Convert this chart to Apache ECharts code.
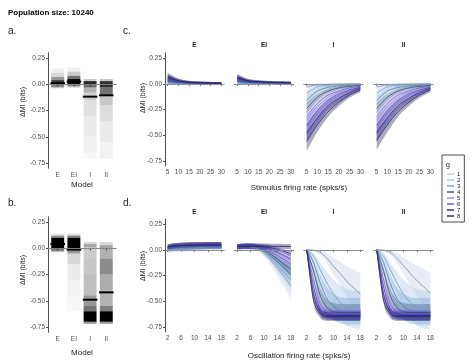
<!DOCTYPE html>
<html><head><meta charset="utf-8">
<script src="https://cdn.jsdelivr.net/npm/echarts@6/dist/echarts.min.js"></script>
<style>html,body{margin:0;padding:0;background:#fff}#c{width:474px;height:361px}</style>
</head><body><div id="c"></div>
<script>
// ---------------- data ----------------
const models = ['E', 'EI', 'I', 'II'];
const gLevels = ['1', '2', '3', '4', '5', '6', '7', '8'];
const yTicks = [-0.75, -0.5, -0.25, 0, 0.25];
const cTicks = [5, 10, 15, 20, 25, 30];
const dTicks = [2, 6, 10, 14, 18];
const cRates = [5, 10, 15, 20, 25, 30];
const dRates = [2, 4, 6, 8, 10, 12, 14, 16, 18];

// strip densities: [top, bottom, darkness]
const stripA_E  = [[0.15,0.11,0.06],[0.11,0.07,0.15],[0.07,0.04,0.4],[0.04,0.02,0.75],[0.02,-0.01,0.95],[-0.01,-0.03,0.45],[-0.03,-0.04,0.1]];
const stripA_EI = [[0.16,0.12,0.06],[0.12,0.08,0.2],[0.08,0.05,0.55],[0.05,0.0,0.95],[0.0,-0.02,0.5],[-0.02,-0.035,0.12]];
const stripA_I  = [[0.05,0.03,0.2],[0.03,-0.01,0.85],[-0.01,-0.03,0.6],[-0.03,-0.08,0.3],[-0.08,-0.15,0.18],[-0.15,-0.3,0.12],[-0.3,-0.5,0.08],[-0.5,-0.65,0.06],[-0.65,-0.71,0.03]];
const stripA_II = [[0.05,0.03,0.2],[0.03,-0.03,0.8],[-0.03,-0.1,0.55],[-0.1,-0.2,0.22],[-0.2,-0.35,0.13],[-0.35,-0.55,0.08],[-0.55,-0.71,0.05]];
const stripB_E  = [[0.14,0.12,0.1],[0.12,0.10,0.45],[0.10,-0.01,1.0],[-0.01,-0.03,0.5],[-0.03,-0.04,0.1]];
const stripB_EI = [[0.14,0.12,0.12],[0.12,0.10,0.5],[0.10,-0.02,1.0],[-0.02,-0.05,0.4],[-0.05,-0.15,0.15],[-0.15,-0.3,0.08],[-0.3,-0.45,0.05],[-0.45,-0.6,0.03]];
const stripB_I  = [[0.06,0.04,0.15],[0.04,0.01,0.35],[0.01,-0.1,0.2],[-0.1,-0.25,0.22],[-0.25,-0.45,0.25],[-0.45,-0.55,0.4],[-0.55,-0.6,0.55],[-0.6,-0.7,1.0],[-0.7,-0.72,0.4]];
const stripB_II = [[0.06,0.03,0.15],[0.03,0.0,0.35],[0.0,-0.1,0.3],[-0.1,-0.25,0.45],[-0.25,-0.4,0.32],[-0.4,-0.55,0.3],[-0.55,-0.6,0.5],[-0.6,-0.7,1.0],[-0.7,-0.72,0.4]];
const meanA = [0.01, 0.025, -0.118, -0.105];
const meanB = [0.04, -0.012, -0.49, -0.42];

// panel c (stimulus firing rate), rows = g1..g8
const c_E = [
  [0.0,0.0,0.0,0.0,0.0,0.0],
  [0.01,0.005,0.003,0.002,0.002,0.001],
  [0.02,0.01,0.006,0.004,0.003,0.002],
  [0.03,0.015,0.008,0.006,0.004,0.003],
  [0.04,0.02,0.01,0.007,0.005,0.004],
  [0.05,0.023,0.012,0.008,0.006,0.004],
  [0.06,0.027,0.013,0.009,0.006,0.005],
  [0.07,0.03,0.015,0.01,0.007,0.005]];
const c_EI = [
  [0.0,0.0,0.0,0.0,0.0,0.0],
  [0.01,0.006,0.004,0.003,0.003,0.002],
  [0.02,0.011,0.008,0.006,0.005,0.004],
  [0.03,0.016,0.011,0.008,0.007,0.006],
  [0.04,0.02,0.014,0.011,0.009,0.008],
  [0.048,0.024,0.016,0.013,0.011,0.009],
  [0.057,0.027,0.018,0.014,0.012,0.01],
  [0.065,0.03,0.02,0.015,0.012,0.01]];
const c_I = [
  [-0.03,-0.01,-0.005,-0.003,-0.002,-0.001],
  [-0.09,-0.03,-0.015,-0.008,-0.005,-0.003],
  [-0.16,-0.07,-0.035,-0.02,-0.012,-0.008],
  [-0.24,-0.13,-0.07,-0.04,-0.025,-0.015],
  [-0.32,-0.19,-0.11,-0.07,-0.04,-0.025],
  [-0.40,-0.26,-0.16,-0.10,-0.06,-0.035],
  [-0.48,-0.33,-0.21,-0.14,-0.085,-0.045],
  [-0.56,-0.40,-0.27,-0.18,-0.11,-0.06]];
const c_II = [
  [-0.03,-0.01,-0.005,-0.003,-0.002,-0.001],
  [-0.09,-0.03,-0.015,-0.008,-0.005,-0.003],
  [-0.16,-0.07,-0.035,-0.02,-0.012,-0.008],
  [-0.24,-0.13,-0.07,-0.04,-0.025,-0.015],
  [-0.32,-0.19,-0.11,-0.07,-0.04,-0.025],
  [-0.40,-0.26,-0.16,-0.10,-0.06,-0.035],
  [-0.48,-0.33,-0.21,-0.14,-0.085,-0.045],
  [-0.55,-0.40,-0.27,-0.18,-0.11,-0.06]];

// panel d (oscillation firing rate)
const d_E = [
  [-0.01,-0.005,0.0,0.004,0.007,0.01,0.012,0.013,0.014],
  [0.0,0.008,0.013,0.017,0.02,0.022,0.024,0.025,0.026],
  [0.01,0.018,0.023,0.027,0.03,0.032,0.033,0.034,0.035],
  [0.015,0.025,0.03,0.034,0.036,0.038,0.039,0.04,0.04],
  [0.02,0.03,0.035,0.038,0.04,0.041,0.042,0.043,0.043],
  [0.024,0.034,0.038,0.041,0.042,0.043,0.044,0.045,0.045],
  [0.027,0.037,0.041,0.043,0.044,0.045,0.046,0.046,0.046],
  [0.03,0.039,0.043,0.045,0.046,0.047,0.047,0.047,0.047]];
const d_EI = [
  [0.03,0.033,0.03,0.01,-0.035,-0.1,-0.18,-0.26,-0.35],
  [0.03,0.033,0.032,0.015,-0.02,-0.08,-0.15,-0.22,-0.29],
  [0.03,0.034,0.033,0.02,-0.01,-0.06,-0.12,-0.18,-0.24],
  [0.03,0.034,0.034,0.024,0.0,-0.04,-0.09,-0.14,-0.19],
  [0.03,0.035,0.035,0.028,0.01,-0.02,-0.055,-0.095,-0.14],
  [0.03,0.035,0.035,0.032,0.02,0.0,-0.025,-0.055,-0.09],
  [0.03,0.035,0.036,0.035,0.03,0.02,0.005,-0.015,-0.04],
  [0.03,0.035,0.036,0.036,0.036,0.035,0.034,0.033,0.032]];
const d_I = [
  [0,-0.005,-0.025,-0.08,-0.16,-0.23,-0.31,-0.37,-0.43],
  [0,-0.06,-0.19,-0.32,-0.43,-0.51,-0.56,-0.58,-0.59],
  [0,-0.12,-0.32,-0.47,-0.55,-0.59,-0.60,-0.60,-0.60],
  [0,-0.2,-0.44,-0.56,-0.60,-0.61,-0.61,-0.61,-0.61],
  [0,-0.28,-0.52,-0.60,-0.62,-0.62,-0.62,-0.62,-0.62],
  [0,-0.35,-0.57,-0.62,-0.63,-0.63,-0.63,-0.63,-0.63],
  [0,-0.42,-0.60,-0.64,-0.64,-0.64,-0.64,-0.64,-0.64],
  [0,-0.48,-0.62,-0.65,-0.65,-0.65,-0.65,-0.65,-0.65]];
const d_II = [
  [0,-0.005,-0.025,-0.08,-0.155,-0.23,-0.30,-0.36,-0.42],
  [0,-0.06,-0.19,-0.32,-0.43,-0.51,-0.56,-0.58,-0.59],
  [0,-0.12,-0.32,-0.47,-0.55,-0.59,-0.60,-0.60,-0.60],
  [0,-0.2,-0.44,-0.56,-0.60,-0.61,-0.61,-0.61,-0.61],
  [0,-0.28,-0.52,-0.60,-0.62,-0.62,-0.62,-0.62,-0.62],
  [0,-0.35,-0.57,-0.62,-0.63,-0.63,-0.63,-0.63,-0.63],
  [0,-0.42,-0.60,-0.64,-0.64,-0.64,-0.64,-0.64,-0.64],
  [0,-0.48,-0.62,-0.65,-0.65,-0.65,-0.65,-0.65,-0.65]];

// ribbon half-width: abs + rel*|value|, rel per g
const spread_cE  = {abs: 0.01, rel: [0.4,0.4,0.4,0.4,0.4,0.4,0.4,0.4]};
const spread_cEI = {abs: 0.008, rel: [0.35,0.35,0.35,0.35,0.35,0.35,0.35,0.35]};
const spread_cI  = {abs: 0.01, rel: [0.3,0.25,0.2,0.18,0.16,0.15,0.15,0.15]};
const spread_dE  = {abs: 0.02, rel: [0.2,0.2,0.2,0.2,0.2,0.2,0.2,0.2]};
const spread_dEI = {abs: 0.018, rel: [0.33,0.3,0.28,0.25,0.22,0.2,0.2,0.2]};
const spread_dI  = {abs: 0.01, rel: [0.45,0.3,0.2,0.12,0.08,0.06,0.05,0.05]};

// ---------------- styles ----------------
const FONT = 'Liberation Sans';
const fillColors = ['#c9cfe3','#a9c9e8','#77a7d4','#3f5f86','#9d90e3','#6f5fd0','#3b2aa0','#2c2c70'];
const lineColors = ['#7d8ca6','#6f9cc4','#4d7fae','#34506f','#6d60c0','#4d3fb0','#2f2390','#232458'];
const facetLeft = [165, 234.5, 304, 374];
const facetW = 59;

const grids = [
  {left: 48, top: 52.75, width: 68, height: 115.5},
  {left: 48, top: 216.75, width: 68, height: 115.5}
];
facetLeft.forEach(l => grids.push({left: l, top: 53, width: facetW, height: 113}));
facetLeft.forEach(l => grids.push({left: l, top: 219, width: facetW, height: 113}));

const tickLabel = {color: '#4d4d4d', fontSize: 6.5, fontFamily: FONT, margin: 3};
const axisLine = {show: true, lineStyle: {color: '#222', width: 0.8}};
const axisTick = {show: true, length: 2, lineStyle: {color: '#222', width: 0.8}};

const xAxes = [], yAxes = [];
for (let i = 0; i < 10; i++) {
  let x;
  if (i < 2) {
    x = {type: 'value', min: 0.4, max: 4.6,
      axisLabel: Object.assign({}, tickLabel, {customValues: [1,2,3,4], formatter: v => models[Math.round(v) - 1]}),
      axisTick: Object.assign({}, axisTick, {customValues: [1,2,3,4]})};
  } else if (i < 6) {
    x = {type: 'value', min: 3.75, max: 31.25,
      axisLabel: Object.assign({}, tickLabel, {customValues: cTicks}),
      axisTick: Object.assign({}, axisTick, {customValues: cTicks})};
  } else {
    x = {type: 'value', min: 1.2, max: 18.8,
      axisLabel: Object.assign({}, tickLabel, {customValues: dTicks}),
      axisTick: Object.assign({}, axisTick, {customValues: dTicks})};
  }
  Object.assign(x, {gridIndex: i, axisLine: axisLine, splitLine: {show: false}});
  xAxes.push(x);
  const showY = (i < 3 || i === 6);
  yAxes.push({type: 'value', gridIndex: i, min: -0.8, max: 0.3,
    axisLine: Object.assign({}, axisLine, {show: showY}),
    axisTick: Object.assign({}, axisTick, {show: showY, customValues: yTicks}),
    axisLabel: Object.assign({}, tickLabel, {show: showY, customValues: yTicks, formatter: v => v.toFixed(2)}),
    splitLine: {show: false}});
}

const series = [];
const zeroLine = {silent: true, symbol: ['none', 'none'], label: {show: false},
  lineStyle: {color: '#9a9a9a', width: 0.8, type: 'solid'}, data: [{yAxis: 0}], animation: false};

function stripSeries(gi, strips, means) {
  const data = [];
  strips.forEach((segs, m) => segs.forEach(s => data.push([m + 1, s[0], s[1], s[2]])));
  series.push({type: 'custom', xAxisIndex: gi, yAxisIndex: gi, data: data, z: 2,
    encode: {x: 0, y: [1, 2]},
    markLine: zeroLine,
    renderItem: (p, api) => {
      const a = api.coord([api.value(0) - 0.4, api.value(1)]);
      const b = api.coord([api.value(0) + 0.4, api.value(2)]);
      return {type: 'rect', shape: {x: a[0], y: a[1], width: b[0] - a[0], height: b[1] - a[1]},
        style: {fill: 'rgba(0,0,0,' + api.value(3) + ')'}};
    }});
  series.push({type: 'custom', xAxisIndex: gi, yAxisIndex: gi, z: 3,
    data: means.map((v, m) => [m + 1, v]),
    renderItem: (p, api) => {
      const a = api.coord([api.value(0) - 0.45, api.value(1)]);
      const b = api.coord([api.value(0) + 0.45, api.value(1)]);
      return {type: 'rect', shape: {x: a[0], y: a[1] - 1, width: b[0] - a[0], height: 2},
        style: {fill: '#000'}};
    }});
}
stripSeries(0, [stripA_E, stripA_EI, stripA_I, stripA_II], meanA);
stripSeries(1, [stripB_E, stripB_EI, stripB_I, stripB_II], meanB);

// smooth bezier path through pixel points (rendering only)
function curve(pts, move) {
  const T = 0.17;
  let d = move ? 'M' + pts[0][0] + ' ' + pts[0][1] : 'L' + pts[0][0] + ' ' + pts[0][1];
  for (let i = 0; i < pts.length - 1; i++) {
    const p0 = pts[i - 1] || pts[i], p1 = pts[i], p2 = pts[i + 1], p3 = pts[i + 2] || pts[i + 1];
    const lo = Math.min(p1[1], p2[1]), hi = Math.max(p1[1], p2[1]);
    const c1 = [p1[0] + (p2[0] - p0[0]) * T, Math.min(hi, Math.max(lo, p1[1] + (p2[1] - p0[1]) * T))];
    const c2 = [p2[0] - (p3[0] - p1[0]) * T, Math.min(hi, Math.max(lo, p2[1] - (p3[1] - p1[1]) * T))];
    d += ' C' + c1[0] + ' ' + c1[1] + ' ' + c2[0] + ' ' + c2[1] + ' ' + p2[0] + ' ' + p2[1];
  }
  return d;
}

function facet(gi, rates, vals, sp) {
  const lines = [];
  vals.forEach((v, g) => {
    const data = v.map((y, i) => {
      const hw = sp.abs + sp.rel[g] * Math.abs(y);
      return [rates[i], y, y - hw, y + hw];
    });
    const rib = {type: 'custom', xAxisIndex: gi, yAxisIndex: gi, silent: true, z: 2,
      name: 'rib' + gi + '_' + g, data: data, encode: {x: 0, y: [2, 3]},
      renderItem: (p, api) => {
        if (p.dataIndex !== 0) return null;
        const up = data.map(d => api.coord([d[0], d[3]]));
        const dn = data.map(d => api.coord([d[0], d[2]])).reverse();
        return {type: 'path', shape: {pathData: curve(up, true) + ' ' + curve(dn, false) + ' Z'},
          style: {fill: fillColors[g], opacity: 0.4, stroke: null}};
      }};
    if (g === 0) rib.markLine = Object.assign({}, zeroLine);
    series.push(rib);
    lines.push({type: 'custom', name: gLevels[g], xAxisIndex: gi, yAxisIndex: gi, silent: true, z: 4,
      data: data, encode: {x: 0, y: 1}, itemStyle: {color: lineColors[g]},
      renderItem: (p, api) => {
        if (p.dataIndex !== 0) return null;
        const pts = data.map(d => api.coord([d[0], d[1]]));
        return {type: 'path', shape: {pathData: curve(pts, true)},
          style: {fill: null, stroke: lineColors[g], lineWidth: 0.8}};
      }});
  });
  lines.forEach(l => series.push(l));
}
facet(2, cRates, c_E, spread_cE);
facet(3, cRates, c_EI, spread_cEI);
facet(4, cRates, c_I, spread_cI);
facet(5, cRates, c_II, spread_cI);
facet(6, dRates, d_E, spread_dE);
facet(7, dRates, d_EI, spread_dEI);
facet(8, dRates, d_I, spread_dI);
facet(9, dRates, d_II, spread_dI);

// ---------------- text ----------------
const txt = (text, x, y, size, opts) => Object.assign({type: 'text', x: x, y: y, silent: true,
  style: Object.assign({text: text, fontFamily: FONT, fontSize: size, fill: '#1a1a1a',
    textAlign: 'center', textVerticalAlign: 'middle'}, (opts && opts.style) || {})},
  opts && opts.rotation ? {rotation: opts.rotation} : {});
const graphics = [
  txt('Population size: 10240', 8, 13, 8, {style: {textAlign: 'left', fontWeight: 'bold', fill: '#000'}}),
  txt('a.', 8, 31.5, 10, {style: {textAlign: 'left'}}),
  txt('b.', 8, 203, 10, {style: {textAlign: 'left'}}),
  txt('c.', 123, 31.5, 10, {style: {textAlign: 'left'}}),
  txt('d.', 123, 203, 10, {style: {textAlign: 'left'}}),
  txt('ΔMI (bits)', 23, 102, 7, {rotation: Math.PI / 2}),
  txt('ΔMI (bits)', 23, 270, 7, {rotation: Math.PI / 2}),
  txt('ΔMI (bits)', 143, 98, 7, {rotation: Math.PI / 2}),
  txt('ΔMI (bits)', 143, 266, 7, {rotation: Math.PI / 2}),
  txt('Model', 82, 185, 8),
  txt('Model', 82, 353, 8),
  txt('Stimulus firing rate (spks/s)', 299, 188, 8),
  txt('Oscillation firing rate (spks/s)', 299, 356, 8),
  txt('g', 446, 165, 7, {style: {textAlign: 'left'}})
];
models.forEach((m, i) => {
  const cx = facetLeft[i] + facetW / 2;
  graphics.push(txt(m, cx, 45, 6.5, {style: {fontWeight: 'bold'}}));
  graphics.push(txt(m, cx, 212, 6.5, {style: {fontWeight: 'bold'}}));
});

const chart = echarts.init(document.getElementById('c'), null, {renderer: 'canvas'});
chart.setOption({
  animation: false,
  backgroundColor: '#fff',
  grid: grids,
  xAxis: xAxes,
  yAxis: yAxes,
  legend: {
    orient: 'vertical', left: 442, top: 155, width: 24,
    padding: [16, 4, 3, 5], borderColor: '#222', borderWidth: 0.8,
    itemWidth: 7, itemHeight: 1.5, itemGap: 0, icon: 'rect',
    textStyle: {fontSize: 6, lineHeight: 5.9, fontFamily: FONT, color: '#1a1a1a', padding: [0, 0, 0, -2]},
    selectedMode: false,
    data: gLevels.map((g, i) => ({name: g, itemStyle: {color: fillColors[i]}}))
  },
  graphic: graphics,
  series: series
});
</script></body></html>
